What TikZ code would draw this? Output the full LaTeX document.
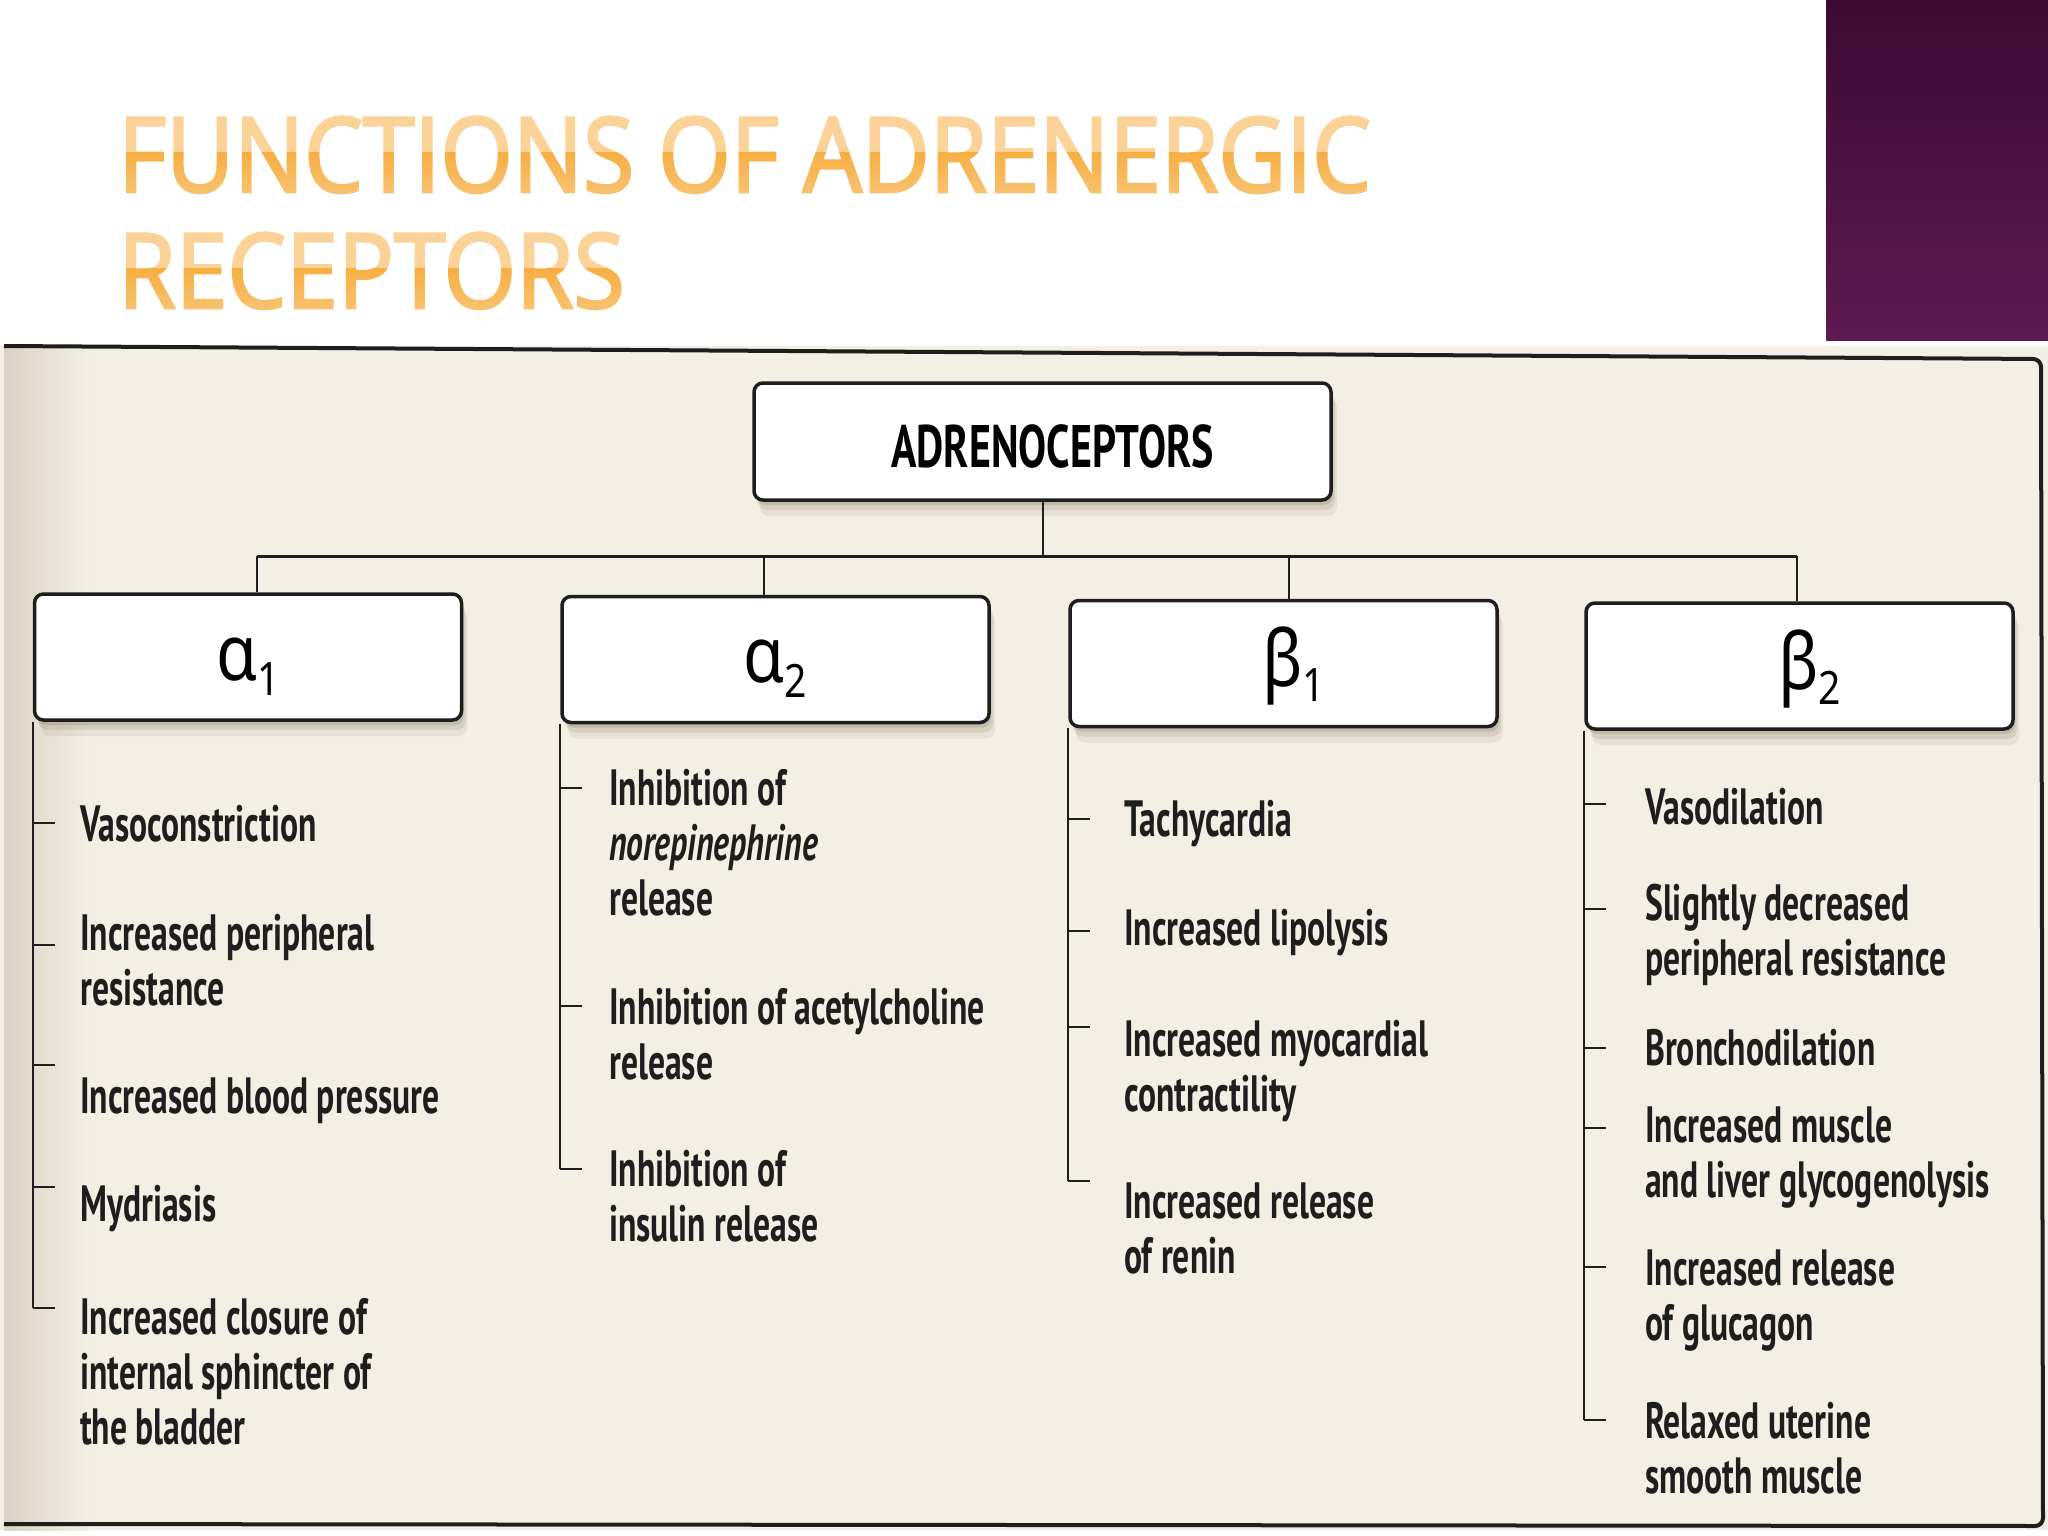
\documentclass[tikz,border=0pt]{standalone}
\usepackage{fontspec}
\usetikzlibrary{shadows}
\newfontfamily\condfont[FakeStretch=0.66]{PT Sans}
\newfontfamily\headfont[FakeStretch=0.70]{PT Sans}
\newfontfamily\greekfont[FakeStretch=0.85]{Noto Sans}
\newfontfamily\titlefont[FakeStretch=0.895,FakeBold=2.5]{Open Sans}
\definecolor{paper}{HTML}{F3EFE4}
\definecolor{paperedge}{HTML}{DCD2C3}
\definecolor{ink}{HTML}{1E1E1E}
\definecolor{titleorange}{HTML}{F6AE42}
\definecolor{purpletop}{HTML}{3E0A33}
\definecolor{purplebot}{HTML}{5E1A52}
\definecolor{shadowc}{HTML}{6B5A40}
\tikzset{
  softshadow/.style={
    drop shadow={shadow xshift=2pt,shadow yshift=-5pt,opacity=.18,fill=shadowc},
    drop shadow={shadow xshift=4pt,shadow yshift=-10pt,opacity=.13,fill=shadowc},
    drop shadow={shadow xshift=6pt,shadow yshift=-16pt,opacity=.09,fill=shadowc}},
  rbox/.style={draw=ink, line width=3.5pt, fill=white, rounded corners=9pt,
    minimum width=427pt, minimum height=126pt, inner sep=0pt, softshadow,
    text height=46pt, text depth=0pt,
    font=\greekfont\fontsize{78}{80}\selectfont},
  rootbox/.style={draw=ink, line width=3.5pt, fill=white, rounded corners=9pt,
    minimum width=577pt, minimum height=117pt, inner sep=0pt, softshadow,
    text height=51pt, text depth=0pt,
    font=\headfont\bfseries\fontsize{60}{62}\selectfont},
  item/.style={anchor=base west, align=left, inner sep=0pt, text=ink,
    font=\condfont\bfseries\fontsize{51}{55}\selectfont},
  conn/.style={draw=ink, line width=2.4pt},
  busline/.style={draw=ink, line width=3pt},
  titletext/.style={anchor=base west, inner sep=0pt, text=titleorange,
    font=\titlefont\fontsize{104}{110}\selectfont}
}
\newcommand{\sub}[1]{\raisebox{-15pt}{\fontsize{46}{48}\selectfont #1}}
\begin{document}
\begin{tikzpicture}[x=1pt,y=-1pt]
\useasboundingbox (0,0) rectangle (2048,1536);
\fill[white] (0,0) rectangle (2048,1536);
% purple bar
\shade[top color=purpletop, bottom color=purplebot] (1826,0) rectangle (2048,340);
% scanned page
\fill[paper] (0,346) rectangle (2048,1530);
\shade[left color=paperedge, right color=paper] (4,346) rectangle (90,1530);
\draw[ink, line width=4pt, rounded corners=8pt] (4,346) -- (2041,359) -- (2043,1526) -- (4,1524);
% title
\node[titletext] (t1) at (118,192) {FUNCTIONS OF ADRENERGIC};
\node[titletext] (t2) at (118,308) {RECEPTORS};
\begin{scope}[blend mode=screen]
  \fill[black!55] (100,100) rectangle (1420,152);
  \shade[top color=black, bottom color=black!72] (100,152) rectangle (1420,200);
  \fill[black!55] (100,216) rectangle (700,268);
  \shade[top color=black, bottom color=black!72] (100,268) rectangle (700,316);
\end{scope}
% boxes
\node[rootbox] (root) at (1042.5,441.5) {\hspace*{20pt}ADRENOCEPTORS};
\node[rbox] (a1) at (248,657) {α\sub{1}};
\node[rbox] (a2) at (775.5,659.5) {α\sub{2}};
\node[rbox] (b1) at (1283.5,663.5) {\hspace*{20pt}β\sub{1}};
\node[rbox] (b2) at (1799.5,666) {\hspace*{20pt}β\sub{2}};
% tree connectors
\coordinate (bus) at (1043,556);
\coordinate (ba1) at (257,556);
\coordinate (ba2) at (764,556);
\coordinate (bb1) at (1289,556);
\coordinate (bb2) at (1797,556);
\draw[conn] (root.south -| bus) -- (bus);
\draw[busline] (ba1) -- (bb2);
\draw[conn] (ba1) -- (ba1 |- a1.north);
\draw[conn] (ba2) -- (ba2 |- a2.north);
\draw[conn] (bb1) -- (bb1 |- b1.north);
\draw[conn] (bb2) -- (bb2 |- b2.north);
% alpha1 list (anchor = baseline of last line)
\node[item] (a1i1) at (80,841) {Vasoconstriction};
\node[item] (a1i2) at (80,1005) {Increased peripheral\\resistance};
\node[item] (a1i3) at (80,1113) {Increased blood pressure};
\node[item] (a1i4) at (80,1221) {Mydriasis};
\node[item] (a1i5) at (80,1444) {Increased closure of\\internal sphincter of\\the bladder};
\draw[conn] (a1.south west) -- (a1.south west |- 0,1308);
\foreach \y in {823,945,1065,1187,1308} \draw[conn] (a1.south west |- 0,\y) -- ++(22,0);
% alpha2 list
\node[item] (a2i1) at (609,915) {Inhibition of\\\textit{norepinephrine}\\release};
\node[item] (a2i2) at (609,1079) {Inhibition of acetylcholine\\release};
\node[item] (a2i3) at (609,1241) {Inhibition of\\insulin release};
\draw[conn] (a2.south west) -- (a2.south west |- 0,1169);
\foreach \y in {788,1006,1169} \draw[conn] (a2.south west |- 0,\y) -- ++(22,0);
% beta1 list
\node[item] (b1i1) at (1124,836) {Tachycardia};
\node[item] (b1i2) at (1124,945) {Increased lipolysis};
\node[item] (b1i3) at (1124,1111) {Increased myocardial\\contractility};
\node[item] (b1i4) at (1124,1273) {Increased release\\of renin};
\draw[conn] (b1.south west) -- (b1.south west |- 0,1181);
\foreach \y in {819,931,1027,1181} \draw[conn] (b1.south west |- 0,\y) -- ++(22,0);
% beta2 list
\node[item] (b2i1) at (1645,824) {Vasodilation};
\node[item] (b2i2) at (1645,975) {Slightly decreased\\peripheral resistance};
\node[item] (b2i3) at (1645,1065) {Bronchodilation};
\node[item] (b2i4) at (1645,1197) {Increased muscle\\and liver glycogenolysis};
\node[item] (b2i5) at (1645,1340) {Increased release\\of glucagon};
\node[item] (b2i6) at (1645,1493) {Relaxed uterine\\smooth muscle};
\draw[conn] (b2.south west) -- (b2.south west |- 0,1420);
\foreach \y in {804,909,1048,1128,1267,1420} \draw[conn] (b2.south west |- 0,\y) -- ++(22,0);
\end{tikzpicture}
\end{document}
